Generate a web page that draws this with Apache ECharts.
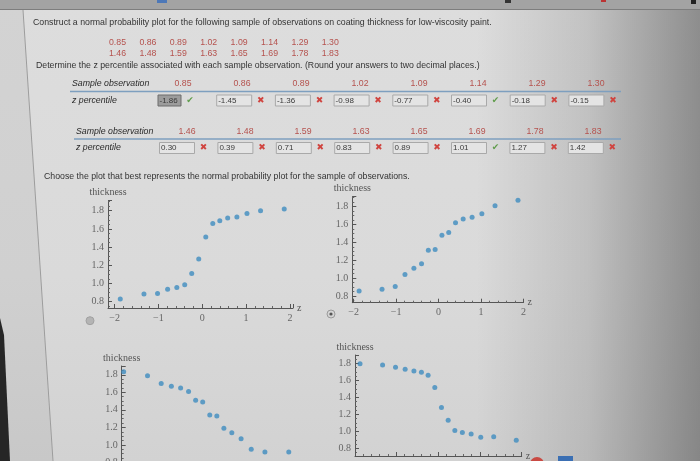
<!DOCTYPE html>
<html>
<head>
<meta charset="utf-8">
<script src="https://cdn.jsdelivr.net/npm/echarts@6/dist/echarts.min.js"></script>
<style>
  html, body { margin: 0; padding: 0; }
  #chart {
    width: 700px;
    height: 461px;
    background:
      linear-gradient(90deg, rgba(0,0,0,0) 0%, rgba(0,0,0,0) 68%, rgba(0,0,0,0.12) 84%, rgba(0,0,0,0.36) 100%),
      linear-gradient(180deg, #dddddd 0%, #dadada 60%, #d2d2d2 100%);
  }
</style>
</head>
<body>
<div id="chart"></div>
<script>
// sample data shown in the question text
const sampleRow1 = [0.85, 0.86, 0.89, 1.02, 1.09, 1.14, 1.29, 1.30];
const sampleRow2 = [1.46, 1.48, 1.59, 1.63, 1.65, 1.69, 1.78, 1.83];
// answers typed into the boxes, and whether they were marked correct
const zAnswers1 = ["-1.86", "-1.45", "-1.36", "-0.98", "-0.77", "-0.40", "-0.18", "-0.15"];
const zCorrect1 = [true, false, false, false, false, true, false, false];
const zAnswers2 = ["0.30", "0.39", "0.71", "0.83", "0.89", "1.01", "1.27", "1.42"];
const zCorrect2 = [false, false, false, false, false, true, false, false];

// z values of the plotted points (same for the four choices)
const zValues = [-1.87, -1.33, -1.02, -0.79, -0.58, -0.40, -0.24, -0.08, 0.08, 0.24, 0.40, 0.58, 0.79, 1.02, 1.33, 1.87];
// thickness of each point, per candidate plot
const thicknessA = [0.83, 0.885, 0.89, 0.935, 0.955, 0.985, 1.11, 1.27, 1.51, 1.66, 1.69, 1.72, 1.73, 1.77, 1.80, 1.82];
const thicknessB = [0.855, 0.875, 0.905, 1.04, 1.11, 1.16, 1.31, 1.32, 1.48, 1.51, 1.62, 1.66, 1.68, 1.72, 1.81, 1.87];
const thicknessC = [1.835, 1.79, 1.70, 1.67, 1.65, 1.61, 1.51, 1.49, 1.34, 1.33, 1.19, 1.14, 1.07, 0.95, 0.92, 0.92];
const thicknessD = [1.795, 1.78, 1.755, 1.73, 1.71, 1.695, 1.66, 1.515, 1.28, 1.13, 1.01, 0.985, 0.97, 0.93, 0.935, 0.895];

const chart = echarts.init(document.getElementById("chart"), null, { renderer: "canvas" });

const SANS = '"Liberation Sans", Arial, sans-serif';
const SERIF = '"Liberation Serif", "DejaVu Serif", serif';
const RED = "#b5524e";
const FONT = "8.75px " + SANS;

// plot frames: pixel box + axis extents
const plots = [
  { grid: { left: 108, top: 200.7, width: 185, height: 107.3 }, x: [-2.15, 2.07], y: [0.73, 1.91], data: thicknessA },
  { grid: { left: 352.3, top: 196.7, width: 171.2, height: 106 }, x: [-2.03, 2.0], y: [0.725, 1.91], data: thicknessB },
  { grid: { left: 121.7, top: 366, width: 175, height: 102.6 }, x: [-1.915, 2.05], y: [0.73, 1.90], data: thicknessC },
  { grid: { left: 355, top: 355, width: 166.7, height: 101 }, x: [-1.99, 2.0], y: [0.71, 1.898], data: thicknessD }
];

const near = (v, step) => Math.abs(v / step - Math.round(v / step)) < 1e-6;

const xAxes = plots.map((p, i) => ({
  type: "value",
  gridIndex: i,
  min: p.x[0],
  max: p.x[1],
  name: "z",
  nameLocation: "end",
  nameGap: 4,
  nameTextStyle: { fontFamily: SERIF, fontSize: 10, color: "#555", padding: [0, 0, 6, 0] },
  axisLine: { onZero: false, lineStyle: { color: "#555", width: 1 } },
  axisTick: { inside: true, length: 4, lineStyle: { color: "#555" } },
  minorTick: { show: true, splitNumber: 5, length: 2, lineStyle: { color: "#666" } },
  splitLine: { show: false },
  axisLabel: {
    margin: 5,
    fontFamily: SERIF,
    fontSize: 10,
    color: "#666",
    formatter: v => near(v, 1) ? String(Math.round(v)).replace("-", "\u2212") : ""
  }
}));

const yAxes = plots.map((p, i) => ({
  type: "value",
  gridIndex: i,
  min: p.y[0],
  max: p.y[1],
  name: "thickness",
  nameLocation: "end",
  nameGap: 3,
  nameTextStyle: { fontFamily: SERIF, fontSize: 10, color: "#555", align: "center" },
  axisLine: { onZero: false, lineStyle: { color: "#555", width: 1 } },
  axisTick: { inside: true, length: 4, lineStyle: { color: "#555" } },
  minorTick: { show: true, splitNumber: 4, length: 2, lineStyle: { color: "#666" } },
  splitLine: { show: false },
  axisLabel: {
    margin: 4,
    fontFamily: SERIF,
    fontSize: 10,
    color: "#666",
    formatter: v => near(v, 0.2) ? v.toFixed(1) : ""
  }
}));

const series = plots.map((p, i) => ({
  type: "scatter",
  xAxisIndex: i,
  yAxisIndex: i,
  symbolSize: 5,
  itemStyle: { color: "#3f8cbf" },
  data: zValues.map((z, k) => [z, p.data[k]])
}));

// ---- page decoration and question text ----
const graphics = [];

// top toolbar strip
graphics.push({ type: "rect", shape: { x: 0, y: 0, width: 700, height: 9 }, style: { fill: "#a3a3a3" }, z: -5 });
graphics.push({ type: "line", shape: { x1: 0, y1: 9.5, x2: 700, y2: 9.5 }, style: { stroke: "#7d7d7d", lineWidth: 1 } });
graphics.push({ type: "rect", shape: { x: 157, y: 0, width: 10, height: 3 }, style: { fill: "#4d78b8" } });
graphics.push({ type: "rect", shape: { x: 505, y: 0, width: 6, height: 3 }, style: { fill: "#333" } });
graphics.push({ type: "rect", shape: { x: 601, y: 0, width: 5, height: 2 }, style: { fill: "#b33" } });
graphics.push({ type: "rect", shape: { x: 691, y: 0, width: 5, height: 4 }, style: { fill: "#222" } });

// left margin of the content panel
graphics.push({ type: "polygon", shape: { points: [[0, 10], [23, 10], [53, 461], [0, 461]] }, style: { fill: "rgba(0,0,0,0.045)" } });
graphics.push({ type: "line", shape: { x1: 23, y1: 10, x2: 53, y2: 461 }, style: { stroke: "#9c9c9c", lineWidth: 1 } });
graphics.push({ type: "polygon", shape: { points: [[0, 318], [4, 335], [10, 461], [0, 461]] }, style: { fill: "#262626" } });

// bottom-right bits of toolbar icons
graphics.push({ type: "circle", shape: { cx: 537, cy: 464, r: 7 }, style: { fill: "#c94a43" } });
graphics.push({ type: "rect", shape: { x: 558, y: 456, width: 15, height: 5 }, style: { fill: "#3b6fb3" } });

function text(x, y, str, opts) {
  graphics.push({
    type: "text",
    x: x,
    y: y,
    style: Object.assign({
      text: str,
      fill: "#333",
      font: FONT,
      verticalAlign: "middle",
      align: "left"
    }, opts || {})
  });
}

text(33, 23, "Construct a normal probability plot for the following sample of observations on coating thickness for low-viscosity paint.");
sampleRow1.forEach((v, i) => text(109 + i * 30.4, 43, v.toFixed(2), { fill: RED }));
sampleRow2.forEach((v, i) => text(109 + i * 30.4, 54, v.toFixed(2), { fill: RED }));
text(36, 66, "Determine the z percentile associated with each sample observation. (Round your answers to two decimal places.)");

function tableRow(opt) {
  text(opt.labelX, opt.headY, "Sample observation", { font: "italic " + FONT, fill: "#2a2a2a" });
  graphics.push({ type: "line", shape: { x1: opt.labelX - 2, y1: opt.lineY, x2: 621, y2: opt.lineY }, style: { stroke: "#7e9fbf", lineWidth: 1.5 } });
  text(opt.labelX, opt.zY, "z percentile", { font: "italic " + FONT, fill: "#2a2a2a" });
  opt.values.forEach((v, i) => text(opt.valX + i * opt.valStep, opt.headY, v.toFixed(2), { fill: RED, align: "center" }));
  opt.answers.forEach((a, i) => {
    const bx = opt.boxX + i * opt.boxStep;
    const dark = opt.firstDark && i === 0;
    const w = dark ? 23 : 35;
    graphics.push({
      type: "rect",
      shape: { x: bx, y: opt.zY - 5.5, width: w, height: 11 },
      style: {
        fill: dark ? "#9c9c9c" : "#e4e4e4",
        stroke: dark ? "#6d6d6d" : "#a9a9a9",
        lineWidth: 1
      }
    });
    text(bx + 1.5, opt.zY, a, { font: "8px " + SANS, fill: "#3a3a3a" });
    const ok = opt.correct[i];
    text(bx + w + 9, opt.zY, ok ? "\u2714" : "\u2716", {
      font: "bold 9px \"DejaVu Sans\"",
      fill: ok ? "#5f9c4b" : "#d0443f",
      align: "center"
    });
  });
}

tableRow({
  labelX: 72, headY: 83.5, lineY: 91.5, zY: 100.5,
  values: sampleRow1, valX: 183, valStep: 59,
  answers: zAnswers1, correct: zCorrect1,
  boxX: 158, boxStep: 58.7, firstDark: true
});
tableRow({
  labelX: 76, headY: 131.5, lineY: 139, zY: 148,
  values: sampleRow2, valX: 187, valStep: 58,
  answers: zAnswers2, correct: zCorrect2,
  boxX: 159.5, boxStep: 58.4, firstDark: false
});

text(44, 177, "Choose the plot that best represents the normal probability plot for the sample of observations.");

// radio buttons next to the candidate plots
graphics.push({ type: "circle", shape: { cx: 90, cy: 320.7, r: 4 }, style: { fill: "#b4b4b4", stroke: "#a0a0a0", lineWidth: 1 } });
graphics.push({ type: "circle", shape: { cx: 331, cy: 314, r: 4 }, style: { fill: "#d4d4d4", stroke: "#9a9a9a", lineWidth: 1 } });
graphics.push({ type: "circle", shape: { cx: 331, cy: 314, r: 1.6 }, style: { fill: "#555" } });

const option = {
  backgroundColor: "transparent",
  animation: false,
  grid: plots.map(p => Object.assign({ outerBoundsMode: "none", containLabel: false }, p.grid)),
  xAxis: xAxes,
  yAxis: yAxes,
  series: series,
  graphic: { elements: graphics }
};

chart.setOption(option);
</script>
</body>
</html>
